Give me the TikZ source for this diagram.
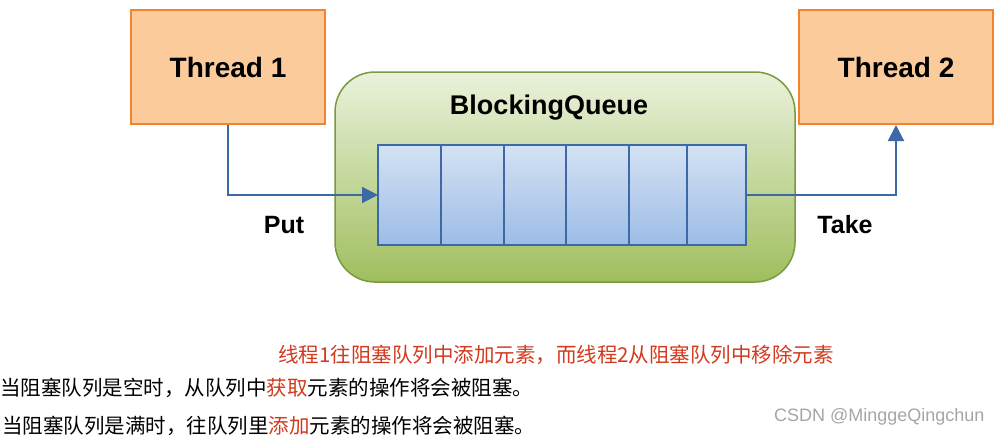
\documentclass[tikz,border=0pt]{standalone}
\usepackage{fontspec}
\usetikzlibrary{arrows.meta}
\setmainfont{Liberation Sans}
\newfontfamily\cjk{Noto Sans CJK SC}
\definecolor{thrfill}{HTML}{FCCB9B}
\definecolor{thrdraw}{HTML}{F0852E}
\definecolor{celltop}{HTML}{D4E2F4}
\definecolor{cellbot}{HTML}{9DBCE6}
\definecolor{celldraw}{HTML}{3C6AA6}
\definecolor{gtop}{HTML}{EAF2DC}
\definecolor{gbot}{HTML}{A0BE5E}
\definecolor{gdraw}{HTML}{7A9A42}
\definecolor{cnred}{HTML}{D23A1E}
\begin{document}
\begin{tikzpicture}[x=1pt,y=-1pt,
  thread/.style={draw=thrdraw,line width=2pt,fill=thrfill,minimum width=194pt,minimum height=114pt,font=\fontsize{28}{32}\selectfont\bfseries},
  cell/.style={draw=celldraw,line width=1.5pt,top color=celltop,bottom color=cellbot,minimum height=100pt},
  flow/.style={draw=celldraw,line width=2pt,-{Triangle[length=16pt,width=16pt]}},
  lbl/.style={font=\fontsize{25}{28}\selectfont\bfseries},
  cn/.style={font=\cjk\fontsize{20.5}{22}\selectfont,anchor=west}]
\useasboundingbox (0,0) rectangle (1000,439);
\fill[white] (0,0) rectangle (1000,439);
\node[thread] (t1) at (228,67) {Thread 1};
\node[thread] (t2) at (896,67) {Thread 2};
\node[draw=gdraw,line width=1.5pt,rounded corners=40pt,top color=gtop,bottom color=gbot,minimum width=460pt,minimum height=210pt] (bq) at (565,177) {};
\node[font=\fontsize{27}{30}\selectfont\bfseries] (title) at (549,108) {BlockingQueue};
\foreach \a/\b [count=\i] in {378/441,441/504,504/566,566/629,629/687,687/746}{
  \node[cell,minimum width={\b-\a}] (c\i) at ({(\a+\b)/2},195) {};
}
\coordinate (q1) at (378,195);
\coordinate (q2) at (746,195);
\draw[flow] (t1.south) |- (q1);
\draw[flow] (q2) -| (t2.south);
\node[lbl] (put) at (284,225) {Put};
\node[lbl] (take) at (845,225) {Take};
\node[font=\cjk\fontsize{20.5}{22}\selectfont,text=cnred] (r) at (556,355) {线程1往阻塞队列中添加元素，而线程2从阻塞队列中移除元素};
\node[cn,inner sep=0pt] (l1) at (0,388) {当阻塞队列是空时，从队列中\textcolor{cnred}{获取}元素的操作将会被阻塞。};
\node[cn,inner sep=0pt] (l2) at (2,426) {当阻塞队列是满时，往队列里\textcolor{cnred}{添加}元素的操作将会被阻塞。};
\node[font=\fontsize{18}{20}\selectfont,text=gray!70,anchor=east] (w) at (988,417) {CSDN @MinggeQingchun};
\end{tikzpicture}
\end{document}
